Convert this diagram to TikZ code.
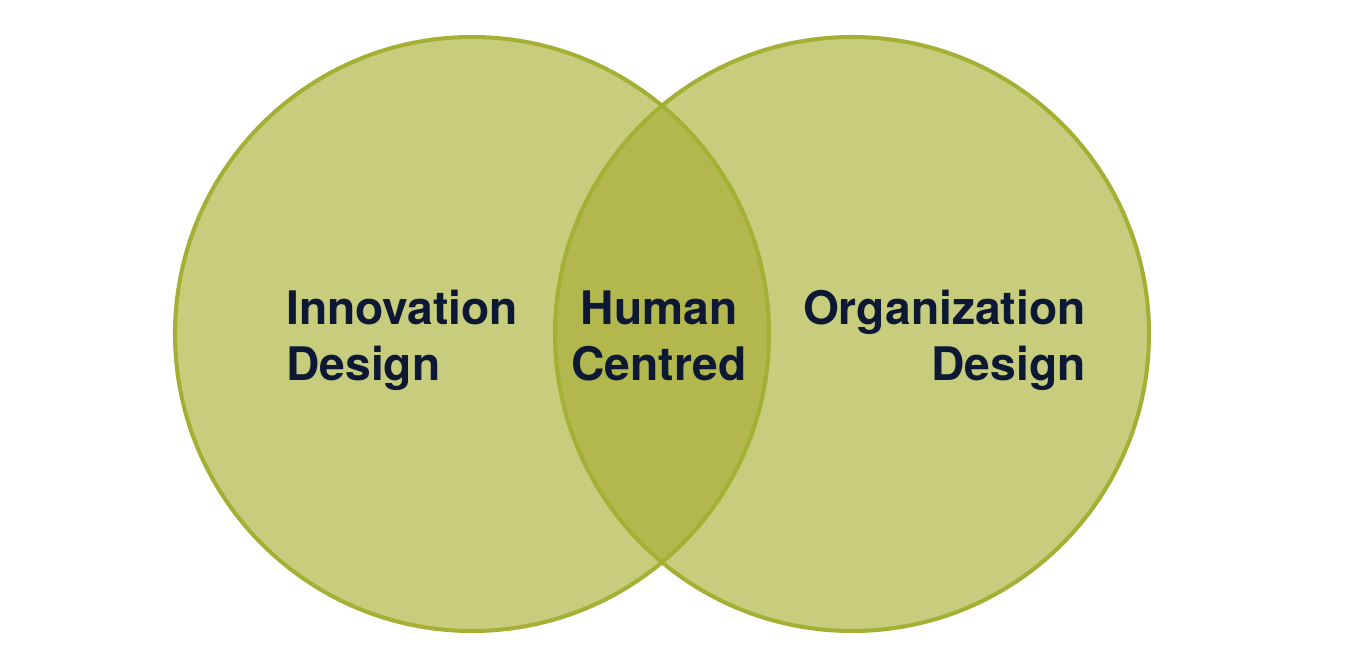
\documentclass[tikz,border=0pt]{standalone}
\usepackage{fontspec}
\setmainfont{TeX Gyre Heros}
\usepackage{xcolor}
\definecolor{vennFill}{RGB}{200,205,126}
\definecolor{vennLens}{RGB}{179,184,78}
\definecolor{vennLine}{RGB}{163,176,52}
\definecolor{vennText}{RGB}{12,24,52}

\begin{document}
\begin{tikzpicture}[x=0.02cm, y=-0.02cm,
  ring/.style = {draw=vennLine, line width=2.3pt},
  label/.style = {font=\fontsize{26.3}{31.9}\selectfont\bfseries, text=vennText, inner sep=0pt}]
\useasboundingbox (0,0) rectangle (1358,668);
\fill [vennFill] (472,334) circle [radius=297];
\fill [vennFill] (852,334) circle [radius=297];
\begin{scope}
  \clip (472,334) circle [radius=297];
  \fill [vennLens] (852,334) circle [radius=297];
\end{scope}
\draw [ring] (472,334) circle [radius=297];
\draw [ring] (852,334) circle [radius=297];
\node [label, align=left, anchor=base west] (innov) at (286,381) {Innovation\\Design};
\node [label, align=center, anchor=base] (human) at (659,381) {Human\\Centred};
\node [label, align=right, anchor=base east] (org) at (1086,381) {Organization\\Design};
\end{tikzpicture}
\end{document}
